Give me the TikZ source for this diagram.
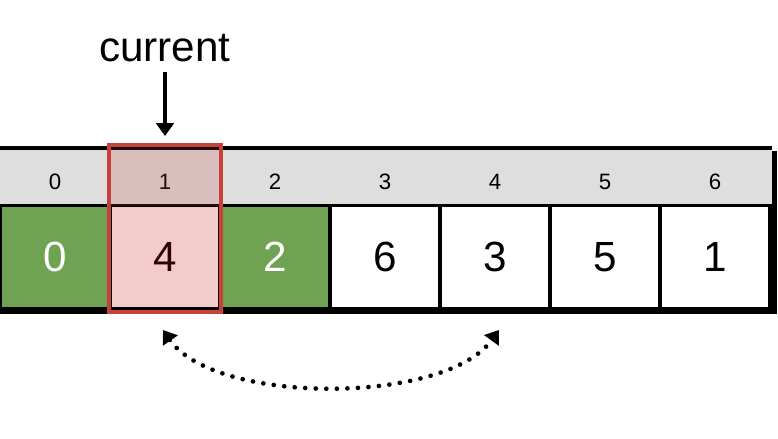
\documentclass[tikz,border=0pt]{standalone}
\usepackage{fontspec}
\setmainfont{Liberation Sans}
\usetikzlibrary{arrows.meta}
\definecolor{cellgreen}{HTML}{6FA253}
\definecolor{cellpink}{HTML}{F1CCCB}
\definecolor{idxgray}{HTML}{DEDEDE}
\definecolor{boxred}{HTML}{C8403A}
\tikzset{
  cellbox/.style={draw=black, line width=2.6pt, minimum width=3.3cm, minimum height=3.08cm, inner sep=0pt, font=\fontsize{36}{36}\selectfont},
  idxlabel/.style={font=\fontsize{19}{19}\selectfont},
}
\begin{document}
\begin{tikzpicture}[x=0.03cm, y=-0.03cm, >={Triangle[length=11pt,width=15pt]}]
\useasboundingbox (0,0) rectangle (778,438);

% index row
\fill[black] (0,151) rectangle (777,214);
\fill[idxgray] (0,148) rectangle (772,206);
\draw[line width=2.6pt] (0,148) -- (772,148);

% values
\fill[black] (0,210) rectangle (777,314);
\foreach \v/\c/\t [count=\i from 0] in {0/cellgreen/white, 4/cellpink/black!80!red, 2/cellgreen/white, 6/white/black, 3/white/black, 5/white/black, 1/white/black} {
  \node[cellbox, fill=\c, text=\t] (v\i) at (55+110*\i,257) {\v};
  \node[idxlabel] (i\i) at (55+110*\i,182) {\i};
}

% current marker
\fill[boxred, opacity=0.2] (110,148) rectangle (220,206);
\draw[boxred, line width=2.8pt] (109,145) rectangle (221,312);
\node[font=\fontsize{36}{36}\selectfont] (cur) at (165,48) {current};
\draw[->, line width=3.6pt] (cur.south) ++(0,6) coordinate (c0) (c0) -- (165,136) coordinate (c1);

% swap arrow
\coordinate (s0) at (163,330);
\coordinate (s1) at (499,330);
\draw[<->, line width=4pt, dash pattern=on 0pt off 9pt, line cap=round]
  (s0) .. controls (215,405) and (445,405) .. (s1);
\end{tikzpicture}
\end{document}
